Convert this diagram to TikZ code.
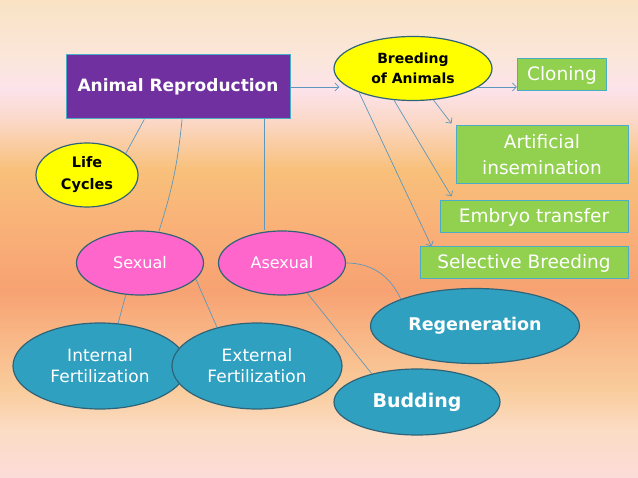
\documentclass[tikz,border=0pt]{standalone}
\usepackage{fontspec}
\setmainfont{DejaVu Sans}
\usetikzlibrary{shapes.geometric,calc,arrows.meta}
\definecolor{cA}{HTML}{F9E3C3}
\definecolor{cB}{HTML}{FBE6DC}
\definecolor{cC}{HTML}{FCE3EA}
\definecolor{cD}{HTML}{FBD8C8}
\definecolor{cE}{HTML}{F8C07A}
\definecolor{cF}{HTML}{F9B078}
\definecolor{cG}{HTML}{F7A272}
\definecolor{cH}{HTML}{F9B888}
\definecolor{cI}{HTML}{F9CC9C}
\definecolor{cJ}{HTML}{FBDCC4}
\definecolor{cK}{HTML}{FCDCD8}
\definecolor{purp}{HTML}{7030A0}
\definecolor{yel}{HTML}{FFFF00}
\definecolor{pink}{HTML}{FF66CC}
\definecolor{teal}{HTML}{2FA0C0}
\definecolor{grn}{HTML}{92D050}
\definecolor{ellb}{HTML}{2F6478}
\definecolor{boxb}{HTML}{4BACC6}
\definecolor{linec}{HTML}{5C98BC}
\begin{document}
\begin{tikzpicture}[x=1pt,y=-1pt,
  link/.style={draw=linec, line width=0.7pt},
  arr/.style={link, -{Straight Barb[length=4pt,width=8pt]}},
  rbox/.style={rectangle, draw=boxb, line width=1pt, inner sep=0pt, text=white, align=center},
  ell/.style={ellipse, draw=ellb, line width=1.2pt, inner sep=0pt, align=center},
  gbox/.style={rbox, fill=grn, font=\fontsize{18.5}{26}\selectfont},
  tell/.style={ell, fill=teal, text=white},
]
\useasboundingbox (0,0) rectangle (638,478);
% background
\shade[top color=cA, bottom color=cB] (0,0) rectangle (638,60);
\shade[top color=cB, bottom color=cC] (0,60) rectangle (638,90);
\shade[top color=cC, bottom color=cD] (0,90) rectangle (638,120);
\shade[top color=cD, bottom color=cE] (0,120) rectangle (638,170);
\shade[top color=cE, bottom color=cF] (0,170) rectangle (638,230);
\shade[top color=cF, bottom color=cG] (0,230) rectangle (638,290);
\shade[top color=cG, bottom color=cH] (0,290) rectangle (638,340);
\shade[top color=cH, bottom color=cI] (0,340) rectangle (638,390);
\shade[top color=cI, bottom color=cJ] (0,390) rectangle (638,430);
\shade[top color=cJ, bottom color=cK] (0,430) rectangle (638,478);

% nodes
\node[rbox, fill=purp, minimum width=224pt, minimum height=64pt,
      font=\bfseries\fontsize{17}{20}\selectfont] (ar) at (178,87) {Animal Reproduction};
\node[ell, fill=yel, minimum width=158pt, minimum height=64pt,
      font=\bfseries\fontsize{14}{20}\selectfont] (breed) at (413,68.5) {Breeding\\of Animals};
\node[gbox, minimum width=89.5pt, minimum height=32pt] (clon) at (562,75) {Cloning};
\node[gbox, minimum width=172pt, minimum height=58pt] (art) at (542,155) {Artificial\\insemination};
\node[gbox, minimum width=188pt, minimum height=32pt] (emb) at (534,217) {Embryo transfer};
\node[gbox, minimum width=208pt, minimum height=32pt] (sel) at (524,263) {Selective Breeding};
\node[ell, fill=yel, minimum width=102pt, minimum height=64pt,
      font=\bfseries\fontsize{14.5}{22}\selectfont] (life) at (87,175) {Life\\Cycles};
\node[ell, fill=pink, text=white, minimum width=127pt, minimum height=64pt,
      font=\fontsize{16}{20}\selectfont] (sex) at (140,263) {Sexual};
\node[ell, fill=pink, text=white, minimum width=127pt, minimum height=64pt,
      font=\fontsize{16}{20}\selectfont] (asex) at (282,263) {Asexual};
\node[tell, minimum width=174pt, minimum height=86pt,
      font=\fontsize{17}{21}\selectfont] (int) at (100,366) {Internal\\Fertilization};
\node[tell, minimum width=170pt, minimum height=86pt,
      font=\fontsize{17}{21}\selectfont] (ext) at (257,366) {External\\Fertilization};
\node[tell, minimum width=209pt, minimum height=75pt,
      font=\bfseries\fontsize{17.5}{21}\selectfont] (reg) at (475,326) {Regeneration};
\node[tell, minimum width=166pt, minimum height=66pt,
      font=\bfseries\fontsize{19}{22}\selectfont] (bud) at (417,402) {Budding};

% connectors
\draw[arr] (ar.east) -- ([xshift=6pt]ar.east -| breed.west);
\draw[arr] ($(breed.center)+(65,18.5)$) coordinate (bc) (bc) -- (bc -| clon.west);
\draw[arr] (breed.-57.6) -- ([xshift=-4pt,yshift=2pt]art.north west);
\draw[arr] (breed.-121) -- ([xshift=12pt,yshift=4pt]emb.north west);
\draw[arr] (breed.-156) -- ([xshift=12pt]sel.north west);

\draw[link] ($(ar.south west)!0.35!(ar.south east)$) -- (life.29);
\draw[link] ($(ar.south west)!0.518!(ar.south east)$) to[bend left=6] (sex.59);
\coordinate (a3) at ($(ar.south west)!0.884!(ar.south east)$);
\draw[link] (a3) -- (a3 |- asex.north);
\draw[link] (sex.-114.6) -- (int.67);
\draw[link] (sex.-16) -- (ext.136);
\draw[link] (asex.east) to[out=0,in=115] (reg.160);
\draw[link] (asex.-50) -- (bud.148);
\end{tikzpicture}
\end{document}
